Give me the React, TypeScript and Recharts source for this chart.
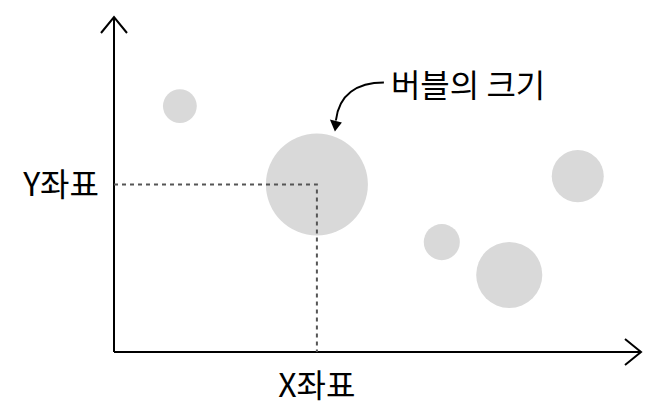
import React from 'react';
import { ScatterChart, Scatter, XAxis, YAxis, ZAxis, ReferenceDot } from 'recharts';

const xValues = [12.5, 38.5, 62.2, 75, 88];
const yValues = [73.4, 50, 32.8, 23, 52.5];
const sizeValues = [11, 100, 12.5, 42, 26];
const highlightIndex = 1;
const labels = { x: 'X좌표', y: 'Y좌표', size: '버블의 크기' };

const data = xValues.map((x, i) => ({ x, y: yValues[i], z: sizeValues[i] }));
const hx = xValues[highlightIndex];
const hy = yValues[highlightIndex];
const guideData = [
  { x: 0, y: hy, z: 0 },
  { x: hx, y: hy, z: 0 },
  { x: hx, y: 0, z: 0 },
];

const FONT = '"Noto Sans CJK KR", "Noto Sans", sans-serif';
const FS = 32;

const SizeAnnotation = (props: any) => {
  const { cx, cy } = props;
  if (cx == null || cy == null) return null;
  return (
    <g>
      <path
        d={`M ${cx + 67} ${cy - 102} C ${cx + 40} ${cy - 102}, ${cx + 22} ${cy - 90}, ${cx + 19} ${cy - 64}`}
        fill="none"
        stroke="#000"
        strokeWidth={2}
      />
      <polygon
        points={`${cx + 13} ${cy - 65} ${cx + 25} ${cy - 62} ${cx + 18} ${cy - 53}`}
        fill="#000"
      />
      <text x={cx + 74} y={cy - 88} fontSize={FS} fontFamily={FONT} fill="#000">
        {labels.size}
      </text>
    </g>
  );
};

const NoShape = () => <g />;

export default function App() {
  return (
    <div style={{ position: 'absolute', left: 0, top: 0, width: 658, height: 418, background: '#fff' }}>
      <ScatterChart width={658} height={418} margin={{ top: 17, right: 17, bottom: 65, left: 113 }}>
        <defs>
          <marker
            id="axisArrow"
            markerWidth={20}
            markerHeight={30}
            refX={17}
            refY={15}
            orient="auto-start-reverse"
            markerUnits="userSpaceOnUse"
            overflow="visible"
          >
            <path d="M 1 2 L 17 15 L 1 28" fill="none" stroke="#000" strokeWidth={2} />
          </marker>
        </defs>
        <XAxis
          type="number"
          dataKey="x"
          domain={[0, 100]}
          allowDataOverflow
          tick={false}
          tickLine={false}
          height={1}
          axisLine={{ stroke: '#000', strokeWidth: 2, markerEnd: 'url(#axisArrow)' } as any}
        />
        <YAxis
          type="number"
          dataKey="y"
          domain={[0, 100]}
          allowDataOverflow
          tick={false}
          tickLine={false}
          width={1}
          axisLine={{ stroke: '#000', strokeWidth: 2, markerStart: 'url(#axisArrow)' } as any}
        />
        <ZAxis type="number" dataKey="z" domain={[0, 100]} range={[0, 8171]} />
        <Scatter data={data} fill="#d9d9d9" isAnimationActive={false} />
        <Scatter
          data={guideData}
          shape={NoShape}
          line={{ stroke: '#555', strokeWidth: 2, strokeDasharray: '4 4' }}
          lineType="joint"
          isAnimationActive={false}
        />
        <ReferenceDot
          x={0}
          y={hy}
          r={0}
          fill="none"
          stroke="none"
          label={{ value: labels.y, position: 'left', offset: 15, fontSize: FS, fontFamily: FONT, fill: '#000' }}
        />
        <ReferenceDot
          x={hx}
          y={0}
          r={0}
          fill="none"
          stroke="none"
          label={{ value: labels.x, position: 'bottom', offset: 22, fontSize: FS, fontFamily: FONT, fill: '#000' }}
        />
        <ReferenceDot x={hx} y={hy} r={0} shape={SizeAnnotation} />
      </ScatterChart>
    </div>
  );
}
